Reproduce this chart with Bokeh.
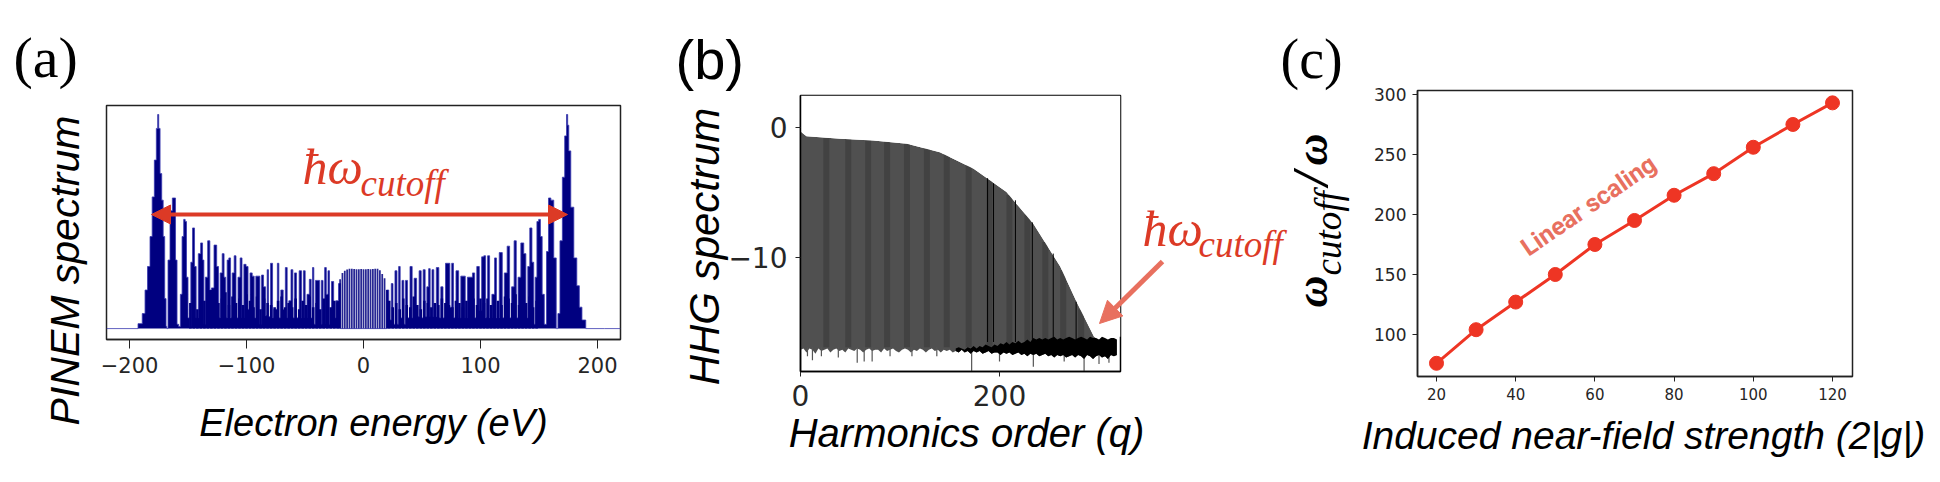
import math

from bokeh.embed import file_html
from bokeh.layouts import column, row
from bokeh.models import Arrow, FixedTicker, Label, NormalHead, Range1d
from bokeh.plotting import figure
from bokeh.resources import INLINE

# (a) PINEM spectrum
pinem_energy = [
    -219.7, -194.9, -190.6, -187.7, -185.8, -183.5, -181.5, -179.8, -177.8, -176.4, -175.5, -174.6,
    -173.2, -171.8, -170.7, -169.2, -168.4, -167.8, -166.4, -164.4, -162.4, -161.3, -160.1, -158.7,
    -157.3, -155.8, -154.4, -153.0, -151.9, -150.7, -149.3, -147.9, -147.3, -145.0, -143.9, -142.2,
    -140.2, -138.2, -137.0, -135.9, -134.5, -131.9, -130.8, -129.1, -126.5, -124.5, -123.4, -121.7,
    -119.9, -118.5, -117.1, -116.0, -114.2, -113.1, -111.4, -109.7, -108.3, -106.3, -104.6, -103.1,
    -101.4, -99.4, -98.0, -96.0, -94.3, -92.6, -91.5, -89.2, -88.0, -86.3, -84.6, -82.9,
    -81.8, -80.6, -78.3, -77.2, -76.1, -74.4, -72.9, -71.8, -69.5, -67.8, -65.8, -64.7,
    -63.0, -61.0, -59.8, -58.1, -56.4, -53.6, -52.4, -50.4, -49.3, -47.3, -45.3, -44.2,
    -43.0, -41.9, -40.2, -38.2, -36.8, -35.3, -33.9, -32.5, -31.1, -29.6, -28.5, -26.2,
    -24.8, -22.5, -20.2, -19.0, 19.0, 20.2, 23.0, 24.5, 25.9, 27.9, 29.3, 30.8,
    31.9, 33.9, 35.0, 36.8, 38.5, 41.0, 42.2, 44.4, 46.4, 48.7, 49.9, 52.1,
    53.3, 55.0, 56.4, 57.6, 59.5, 60.7, 63.8, 65.0, 67.2, 68.7, 71.5, 73.2,
    74.4, 76.4, 77.5, 80.6, 82.1, 84.3, 86.3, 87.7, 90.0, 92.0, 94.3, 95.7,
    98.0, 100.0, 102.0, 103.7, 105.1, 107.1, 108.5, 111.0, 113.1, 114.2, 117.9, 119.4,
    121.4, 124.2, 125.6, 127.6, 129.9, 131.3, 133.0, 136.0, 138.0, 139.6, 141.3, 143.0,
    145.0, 146.0, 147.5, 149.0, 150.5, 152.0, 153.5, 155.6, 157.3, 159.0, 161.3, 164.0,
    165.5, 166.9, 169.0, 171.0, 173.0, 174.1, 175.0, 176.0, 178.4, 181.2, 183.5, 185.5,
    188.0, 192.0, 219.7,
]
pinem_intensity = [
    0, 0, 0.023, 0.07, 0.18, 0.29, 0.43, 0.615, 0.787, 0.935, 1.0, 0.935,
    0.724, 0.6, 0.43, 0.14, 0.01, 0, 0.32, 0.55, 0.61, 0.61, 0.32, 0.02,
    0.01, 0.16, 0.43, 0.51, 0.5, 0.24, 0.05, 0.01, 0.31, 0.47, 0.29, 0.05,
    0.35, 0.4, 0.32, 0.02, 0.24, 0.41, 0.18, 0.19, 0.39, 0.29, 0.05, 0.26,
    0.35, 0.24, 0.05, 0.32, 0.33, 0.05, 0.26, 0.34, 0.05, 0.24, 0.33, 0.05,
    0.3, 0.29, 0.09, 0.26, 0.245, 0.05, 0.245, 0.245, 0.02, 0.25, 0.195, 0.06,
    0.275, 0.055, 0.305, 0.05, 0.09, 0.09, 0.305, 0.05, 0.18, 0.09, 0.285, 0.05,
    0.13, 0.275, 0.05, 0.26, 0.05, 0.27, 0.05, 0.27, 0.05, 0.16, 0.23, 0.05,
    0.285, 0.02, 0.225, 0.225, 0.02, 0.225, 0.02, 0.285, 0.16, 0.27, 0.02, 0.22,
    0.05, 0.13, 0.21, 0, 0, 0.18, 0.04, 0.21, 0.02, 0.27, 0.02, 0.29,
    0.05, 0.225, 0.02, 0.225, 0.05, 0.29, 0.05, 0.235, 0.055, 0.27, 0.05, 0.275,
    0.055, 0.195, 0.28, 0.055, 0.275, 0.055, 0.285, 0.05, 0.195, 0.05, 0.305, 0.305,
    0.1, 0.305, 0.05, 0.27, 0.05, 0.245, 0.245, 0.05, 0.24, 0.24, 0.26, 0.05,
    0.29, 0.085, 0.335, 0.34, 0.05, 0.34, 0.05, 0.16, 0.33, 0.05, 0.355, 0.05,
    0.26, 0.385, 0.05, 0.195, 0.41, 0.05, 0.24, 0.4, 0.35, 0.05, 0.29, 0.47,
    0.31, 0.02, 0.24, 0.5, 0.51, 0.43, 0.16, 0.02, 0.36, 0.61, 0.6, 0.33,
    0, 0.07, 0.41, 0.707, 0.9, 1.0, 0.95, 0.83, 0.567, 0.33, 0.2, 0.1,
    0.04, 0, 0,
]
dome_energy = [-20, -18, -16, -14, -12, -10, -8, -6, -4, -2, 0, 2, 4, 6, 8, 10, 12, 14, 16, 18, 20]
dome_top = [0.23, 0.26, 0.27, 0.276, 0.28, 0.28, 0.278, 0.277, 0.277, 0.278, 0.277, 0.277, 0.278, 0.277,
            0.278, 0.28, 0.28, 0.273, 0.255, 0.235, 0.18]
# lower teeth that fill the gaps between the tall comb lines
tooth_energy = [
    -148, -145, -142, -139, -136, -133, -130, -127, -124, -121, -118, -115, -112, -109, -106,
    -103, -100, -97, -94, -91, -88, -85, -82, -79, -76, -73, -70, -67, -64, -61,
    -58, -55, -52, -49, -46, -43, -40, -37, -34, -31, -28, -25, -22,
    22, 25, 28, 31, 34, 37, 40, 43, 46, 49, 52, 55, 58, 61, 64, 67,
    70, 73, 76, 79, 82, 85, 88, 91, 94, 97, 100, 103, 106, 109, 112,
    115, 118, 121, 124, 127, 130, 133, 136, 139, 142, 145, 148,
]
tooth_top = [
    0.12, 0.15, 0.09, 0.16, 0.13, 0.1, 0.18, 0.16, 0.12, 0.14, 0.17, 0.11, 0.15, 0.12, 0.14,
    0.11, 0.16, 0.13, 0.1, 0.15, 0.09, 0.14, 0.12, 0.11, 0.1, 0.13, 0.15, 0.1, 0.12, 0.1,
    0.14, 0.09, 0.13, 0.11, 0.15, 0.1, 0.12, 0.09, 0.14, 0.11, 0.1, 0.13, 0.12,
    0.13, 0.1, 0.12, 0.09, 0.14, 0.11, 0.1, 0.15, 0.11, 0.09, 0.13, 0.12, 0.1, 0.12, 0.11, 0.14,
    0.12, 0.11, 0.1, 0.13, 0.12, 0.1, 0.13, 0.11, 0.14, 0.11, 0.14, 0.12, 0.14, 0.11, 0.15,
    0.13, 0.11, 0.15, 0.14, 0.12, 0.16, 0.11, 0.14, 0.12, 0.15, 0.1, 0.13,
]
pinem_ticks = [-200, -100, 0, 100, 200]

# (b) HHG spectrum: upper envelope, noise floor, darker fringes
envelope_q = [0, 6, 40, 73, 107, 140, 174, 207, 234, 261, 278, 295]
envelope_y = [-0.31, -0.67, -0.87, -1.0, -1.26, -1.9, -3.17, -4.97, -7.4, -10.7, -13.5, -16.1]
floor_low = [
    -17.1, -17.0, -17.3, -17.0, -17.1, -17.4, -17.0, -17.2, -17.1, -17.0,
    -17.3, -17.1, -17.0, -17.2, -17.1, -17.3, -17.0, -17.1, -17.2, -17.0,
    -17.1, -17.3, -17.1, -17.0, -17.2, -17.1, -17.1, -17.3, -17.0, -17.2,
    -17.1, -17.0, -17.2, -17.3, -17.1, -17.0, -17.1, -17.3, -17.1, -17.2,
    -17.0, -17.1, -17.3, -17.1, -17.0, -17.2, -17.1, -17.3, -17.1, -17.2,
    -17.1, -17.3, -17.2, -17.3, -17.1, -17.3, -17.2, -17.4, -17.2, -17.3,
    -17.2, -17.4, -17.3, -17.2, -17.4, -17.3, -17.3, -17.5, -17.3, -17.4,
    -17.3, -17.5, -17.4, -17.3, -17.5, -17.4, -17.6, -17.4, -17.5, -17.4,
    -17.6, -17.5, -17.4, -17.6, -17.5, -17.7, -17.5, -17.6, -17.5, -17.7,
    -17.6, -17.5, -17.7, -17.5, -17.6, -17.8, -17.5, -17.6, -17.8, -17.6,
    -17.5, -17.7, -17.6, -17.8, -17.5, -17.6, -17.5,
]
band_top = [
    -17.0, -16.9, -17.0, -17.1, -16.9, -17.0, -16.8, -17.0, -16.8, -16.9,
    -16.7, -16.8, -16.9, -16.7, -16.8, -16.6, -16.7, -16.5, -16.7, -16.5,
    -16.6, -16.4, -16.6, -16.5, -16.3, -16.5, -16.2, -16.3, -16.2, -16.3,
    -16.2, -16.3, -16.2, -16.1, -16.3, -16.2, -16.3, -16.2, -16.1, -16.2,
    -16.3, -16.2, -16.1, -16.2, -16.3, -16.1, -16.2, -16.2, -16.3, -16.1,
    -16.2, -16.3, -16.2, -16.2, -16.3,
]
fringe_q = [26, 48, 68, 87, 107, 127, 147, 169, 190, 210, 228, 246, 264, 282]
fringe_top = [-0.8, -0.9, -1.0, -1.1, -1.26, -1.6, -2.0, -2.9, -4.0, -5.2, -6.7, -8.8, -11.0, -14.0]
line_q = [188, 194, 216, 233, 254, 277]
line_top = [-3.9, -4.3, -5.6, -7.3, -9.7, -13.4]
spike_q = [7, 12, 21, 38, 57, 64, 72, 90, 112, 137, 172, 200, 234, 265, 285, 300, 310]
spike_low = [-17.6, -17.9, -17.6, -17.7, -18.1, -18.0, -18.0, -17.6, -17.6, -17.6, -18.8, -18.0, -18.4,
             -18.0, -18.8, -18.2, -18.1]

# (c) cutoff against field strength
field_strength = [20, 30, 40, 50, 60, 70, 80, 90, 100, 110, 120]
cutoff_order = [76, 104, 127, 150, 175, 195, 216, 234, 256, 275, 293]

RED = "#dc3a26"
SALMON = "#e8705f"
SANS = "Liberation Sans"
SERIF = "Liberation Serif"
PAGE_W = 1940
PAGE_H = 482
# Label's alphabetic baseline sits lower than asked, by about this share of the font size
BASELINE_SHIFT = 0.37


def make_fig(page_left, page_right, box, x_range, y_range):
    # box is the frame in page pixels: left, right, top, bottom
    left, right, top, bottom = box
    p = figure(width=page_right - page_left, height=PAGE_H, x_range=Range1d(*x_range), y_range=Range1d(*y_range),
               min_border_left=left - page_left, min_border_right=page_right - right,
               min_border_top=top, min_border_bottom=PAGE_H - bottom, frame_align=False,
               toolbar_location=None, output_backend="svg", tools="")
    p.grid.visible = False
    p.outline_line_color = "#222222"
    p.outline_line_width = 1.5
    p.outline_line_alpha = 1
    p.axis.axis_line_color = "#222222"
    p.axis.axis_line_width = 1.5
    p.axis.major_tick_line_color = "#222222"
    p.axis.major_tick_in = 0
    p.axis.minor_tick_line_color = None
    p.axis.major_label_text_font = "DejaVu Sans"
    p.axis.major_label_text_color = "#262626"
    return p


# panel (a)
a = make_fig(0, 660, (106, 620, 105, 339), (-219.7, 219.7), (-0.051, 1.042))
a.yaxis.visible = False
a.xaxis.ticker = FixedTicker(ticks=pinem_ticks)
a.xaxis.major_label_overrides = {-200: "\u2212200", -100: "\u2212100", 0: "0", 100: "100", 200: "200"}
a.xaxis.major_label_text_font_size = "21px"
a.xaxis.major_tick_out = 9
a.xaxis.major_label_standoff = 8

a.varea_step(x=pinem_energy, y1=[0] * len(pinem_energy), y2=pinem_intensity, step_mode="center", fill_color="#000080")
a.step(x=pinem_energy, y=pinem_intensity, mode="center", line_color="#3a3ab0", line_width=0.8)
a.vbar(x=tooth_energy, top=tooth_top, bottom=0, width=2.2, fill_color="#000080", line_color=None)
a.vbar(x=dome_energy, top=dome_top, bottom=0, width=1.5, fill_color="#000080", line_color=None, fill_alpha=0.85)

# panel (b)
xr_b = (0, 321.6)
yr_b = (-18.77, 2.46)
b = make_fig(660, 1350, (800, 1120, 95, 371), xr_b, yr_b)
b.xaxis.ticker = FixedTicker(ticks=[0, 200])
b.yaxis.ticker = FixedTicker(ticks=[0, -10])
b.yaxis.major_label_overrides = {0: "0", -10: "\u221210"}
b.axis.major_label_text_font_size = "28px"
b.axis.major_tick_out = 5
b.axis.major_label_standoff = 8
b.outline_line_color = "black"
b.axis.axis_line_color = "black"

floor_q = [3 * i for i in range(len(floor_low))]
band_q = floor_q[52:]
b.patch(x=envelope_q + floor_q[::-1] + [0], y=envelope_y + floor_low[::-1] + [envelope_y[0]],
        fill_color="#505050", line_color=None)
b.vbar(x=fringe_q, top=fringe_top, bottom=-16.9, width=6, fill_color="#383838", fill_alpha=0.6, line_color=None)
# white above the envelope keeps its edge clean over the fringes
b.patch(x=envelope_q + [xr_b[1], xr_b[1], 0], y=envelope_y + [envelope_y[-1], yr_b[1], yr_b[1]],
        fill_color="white", line_color=None)
b.segment(x0=spike_q, y0=[-16.9] * len(spike_q), x1=spike_q, y1=spike_low, line_color="#555555", line_width=1.2)
b.segment(x0=line_q, y0=line_top, x1=line_q, y1=[-16.5] * len(line_q), line_color="black", line_width=1)
b.patch(x=band_q + band_q[::-1], y=band_top + floor_low[52:][::-1], fill_color="black", line_color=None)

# panel (c)
c = make_fig(1350, PAGE_W, (1417, 1852, 90, 376), (15.2, 125.05), (65, 303.3))
c.xaxis.ticker = FixedTicker(ticks=[20, 40, 60, 80, 100, 120])
c.yaxis.ticker = FixedTicker(ticks=[100, 150, 200, 250, 300])
c.xaxis.major_label_text_font_size = "15px"
c.yaxis.major_label_text_font_size = "17px"
c.axis.major_tick_out = 5
c.axis.major_label_standoff = 6

c.line(x=field_strength, y=cutoff_order, line_color="#ee3524", line_width=3)
c.scatter(x=field_strength, y=cutoff_order, size=14, fill_color="#ee3524", line_color="#ee3524")

# transparent sheet over the whole page for texts and arrows, its ranges are page pixels
sheet = figure(width=PAGE_W, height=PAGE_H, x_range=Range1d(0, PAGE_W), y_range=Range1d(PAGE_H, 0),
               x_axis_type=None, y_axis_type=None, min_border=0, toolbar_location=None,
               output_backend="svg", tools="", margin=(-PAGE_H, 0, 0, 0))
sheet.grid.visible = False
sheet.outline_line_color = None
sheet.background_fill_alpha = 0
sheet.border_fill_alpha = 0


def add_label(px, py, text, size, font=SANS, style="normal", color="black", angle=0, align="left",
              baseline="alphabetic"):
    if baseline == "alphabetic":
        shift = BASELINE_SHIFT * size
        px -= shift * math.sin(math.radians(angle))
        py -= shift * math.cos(math.radians(angle))
    sheet.add_layout(Label(x=px, y=py, text=text, text_font=font, text_font_size=f"{size}px",
                           text_font_style=style, text_color=color, angle=angle, angle_units="deg",
                           text_align=align, text_baseline=baseline))


def add_arrow(x0, y0, x1, y1, color, width, size, both=False):
    head = dict(size=size, fill_color=color, line_color=color)
    sheet.add_layout(Arrow(x_start=x0, y_start=y0, x_end=x1, y_end=y1, line_color=color, line_width=width,
                           start=NormalHead(**head) if both else None, end=NormalHead(**head)))


add_arrow(151, 214, 567, 214, RED, 4, 19, both=True)
add_label(13, 78, "(a)", 58, font=SERIF)
add_label(80, 270, "PINEM spectrum", 41, style="italic", angle=90, align="center")
add_label(373, 437, "Electron energy (eV)", 38, style="italic", align="center")
add_label(302, 185, "\u0127\u03c9", 50, font=SERIF, style="italic", color=RED)
add_label(360, 197, "cutoff", 37, font=SERIF, style="italic", color=RED)

add_arrow(1162, 261, 1099, 323, SALMON, 5, 22)
add_label(675, 80, "(b)", 56)
add_label(720, 246, "HHG spectrum", 42, style="italic", angle=90, align="center")
add_label(966, 447, "Harmonics order (q)", 40, style="italic", align="center")
add_label(1142, 247, "\u0127\u03c9", 50, font=SERIF, style="italic", color=RED)
add_label(1198, 258, "cutoff", 37, font=SERIF, style="italic", color=RED)

add_label(1280, 79, "(c)", 56, font=SERIF)
add_label(1328, 307, "\u03c9", 44, font=SERIF, style="bold italic", angle=90)
add_label(1342, 275, "cutoff", 37, font=SERIF, style="italic", angle=90)
add_label(1328, 185, "/", 50, font=SERIF, style="bold italic", angle=90)
add_label(1328, 165, "\u03c9", 44, font=SERIF, style="bold italic", angle=90)
add_label(1588, 205, "Linear scaling", 25, font="Roboto", style="bold", color=SALMON, angle=34.4,
          align="center", baseline="middle")
add_label(1643, 449, "Induced near-field strength (2|g|)", 39, style="italic", align="center")

page = column(row(a, b, c, spacing=0), sheet, spacing=0)
open("out.html", "w").write(file_html(page, INLINE))
